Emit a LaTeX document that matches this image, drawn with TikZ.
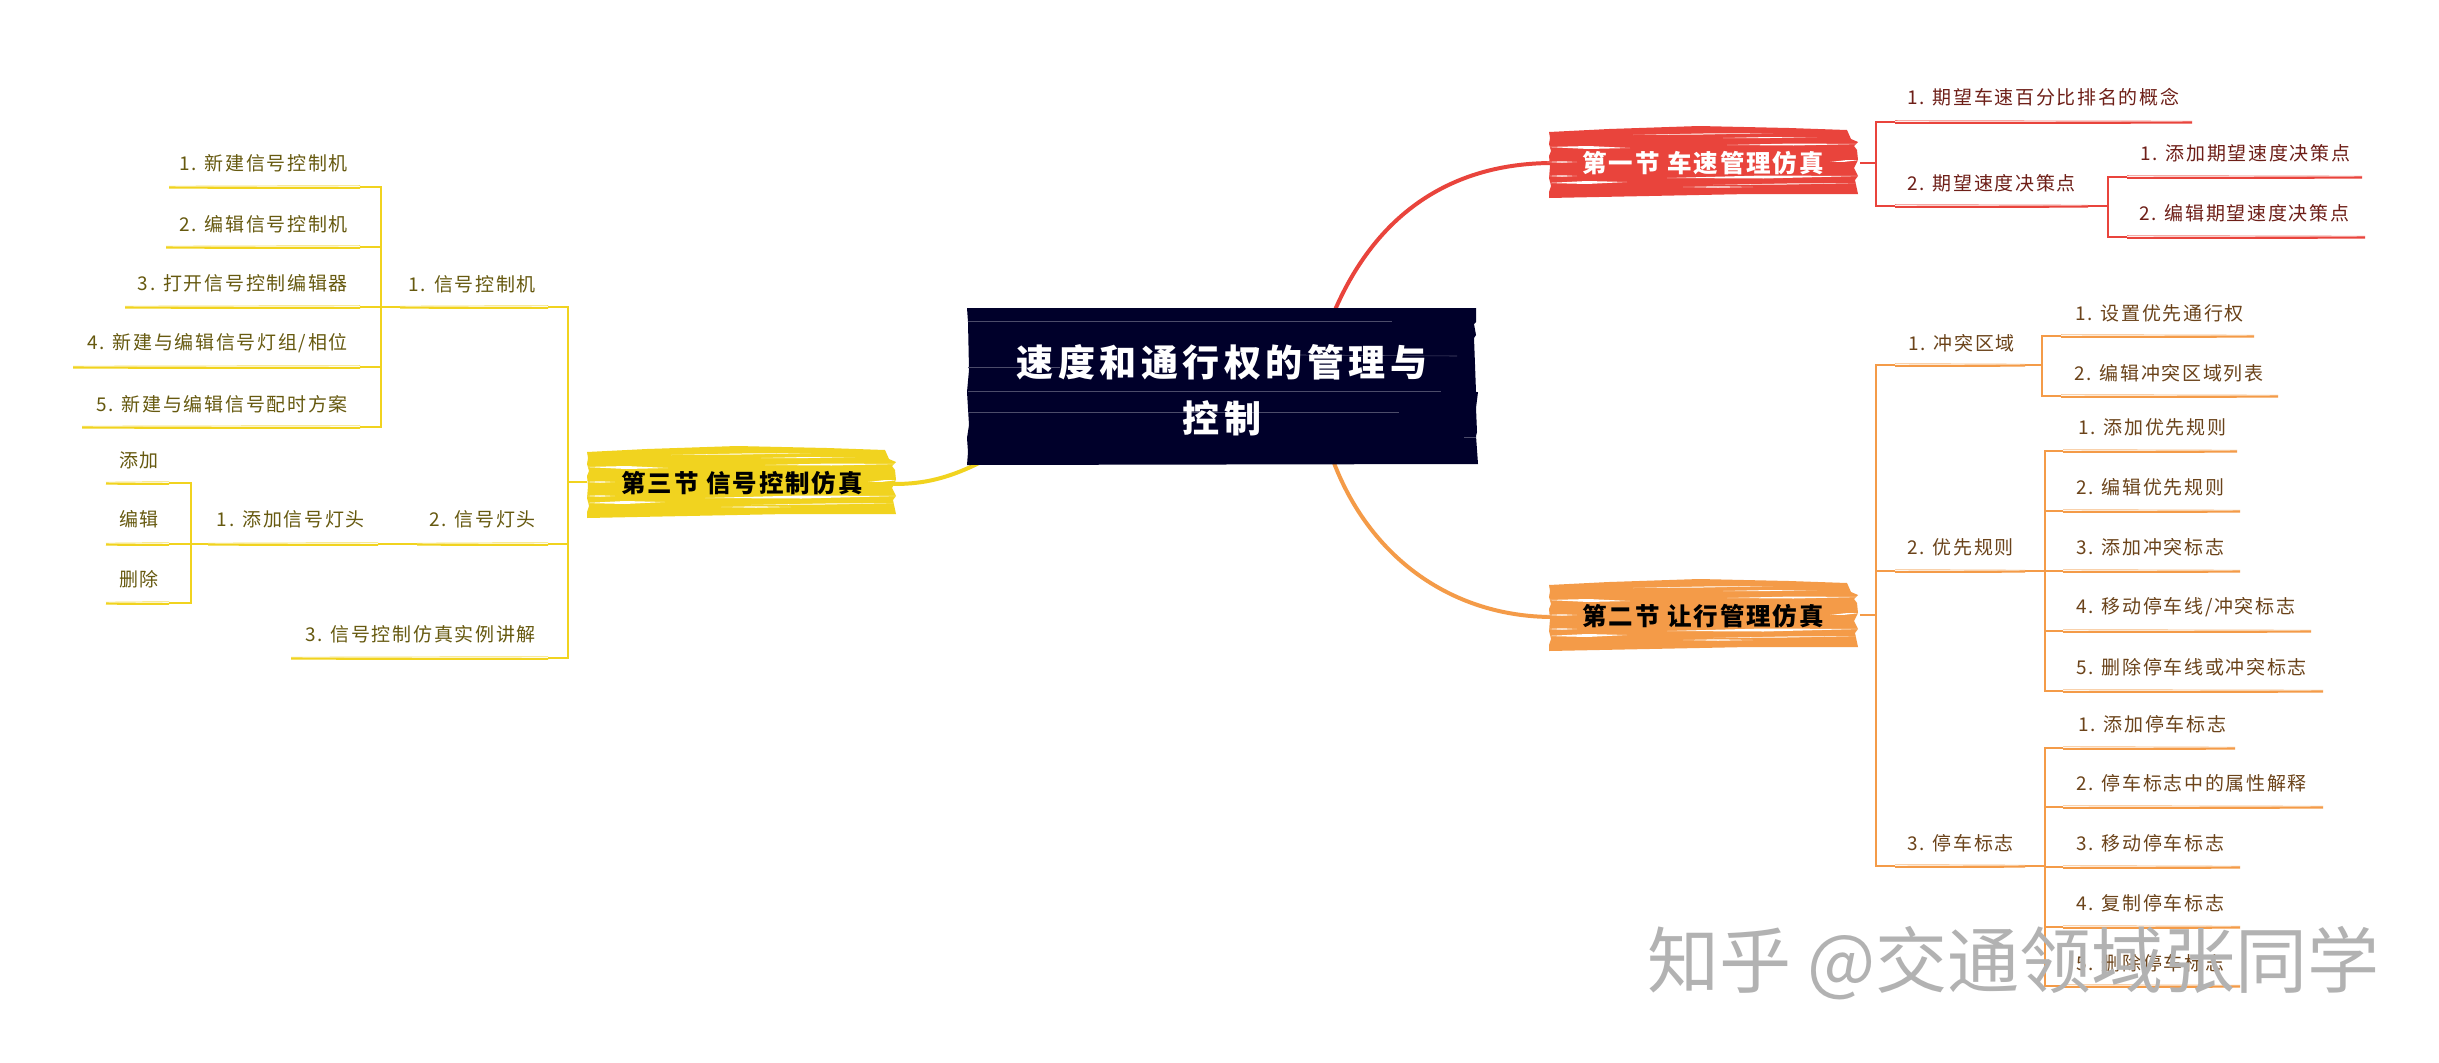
\documentclass[tikz,border=0pt]{standalone}
\usepackage{fontspec}
\newfontfamily\leaffont[LetterSpace=9]{Noto Sans CJK SC}
\newfontfamily\titlefont[LetterSpace=8]{Noto Sans CJK SC}
\newfontfamily\rootfont[LetterSpace=12]{Noto Sans CJK SC}
\newfontfamily\markfont{Noto Sans CJK SC}
\definecolor{cred}{HTML}{E9443C}
\definecolor{corange}{HTML}{F49B48}
\definecolor{cyellow}{HTML}{F1D31F}
\definecolor{cnavy}{HTML}{00002A}
\definecolor{tred}{HTML}{6E1F18}
\definecolor{torange}{HTML}{6B431A}
\definecolor{tyellow}{HTML}{66590F}
\colorlet{LC}{cred}
\colorlet{TC}{tred}
\tikzset{
  x=0.03cm,y=-0.03cm,
  conn/.style={draw=LC,line width=1.1pt},
  under/.style={draw=LC,line width=1.5pt},
  underthin/.style={draw=LC!70,line width=0.8pt},
  leaf/.style={inner sep=0pt,text=TC,font=\leaffont\fontsize{16.2pt}{18pt}\selectfont},
  topic/.style={inner sep=0pt,font=\titlefont\bfseries\fontsize{20.9pt}{24pt}\selectfont},
  rootlabel/.style={inner sep=0pt,align=center,text=white,font=\rootfont\bfseries\fontsize{31.6pt}{47.5pt}\selectfont},
  curve/.style={line width=3.4pt,line cap=round},
  wm/.style={inner sep=0pt,anchor=west,font=\markfont\fontsize{61.5pt}{70pt}\selectfont},
  scratch/.style={draw=white!30!cnavy,line width=0.5pt}
}
% name, near x, far x, y, anchor, text x, text y, text
\newcommand{\leafrow}[8]{%
  \coordinate (#1-a) at (#2,#4);
  \coordinate (#1-b) at (#3,#4);
  \draw[underthin] ([yshift=1.1pt]#1-a) -- ([yshift=0.6pt]#1-b);
  \draw[under] ([yshift=-0.9pt]#1-a) -- ([yshift=-0.7pt]#1-b);
  \node[leaf,anchor=#5] (#1) at (#6,#7) {#8};
}
% parent, junction x, y, kids
\newcommand{\junction}[4]{%
  \coordinate (#1-j) at (#2,#3);
  \draw[conn] (#1-b) -- (#1-j);
  \foreach \k in {#4} {\draw[conn] (#1-j) |- (\k-a);}
}
\newcommand{\streak}[5]{% x1 y1 x2 y2 thickness
  \fill[white] (#1,#2) -- ({(#1+#3)/2},{(#2+#4)/2-#5/2}) -- (#3,#4) -- ({(#1+#3)/2},{(#2+#4)/2+#5/2}) -- cycle;
}
\newcommand{\brushbar}[3]{% x y colour
  \begin{scope}[shift={(#1,#2)}]
    \fill[#3] (0,6) -- (60,3) -- (150,0) -- (240,2) -- (298,4) -- (302,13) -- (309,16) -- (305,20) -- (308,24) -- (309,34) -- (305,42) -- (309,50) -- (306,54) -- (309,68) -- (200,68) -- (100,70) -- (0,72) -- (0,66) -- (2,60) -- (0,52) -- (1,40) -- (0,30) -- (2,25) -- (0,18) -- (1,12) -- cycle;
    \streak{84}{9}{224}{7}{1}
    \streak{174}{12}{268}{11}{1}
    \streak{178}{19}{311}{18}{2}
    \streak{-2}{21}{81}{22}{3}
    \streak{-2}{36}{28}{36}{1.5}
    \streak{281}{36}{311}{34}{1.5}
    \streak{-2}{50}{28}{50}{1.5}
    \streak{118}{52}{311}{50}{3}
    \streak{-2}{57}{78}{56}{3}
    \streak{134}{61}{204}{61}{1.5}
    \streak{164}{59}{311}{57}{1}
  \end{scope}
}
\begin{document}
\begin{tikzpicture}
\useasboundingbox (0,0) rectangle (2439,1062);
\fill[white] (0,0) rectangle (2439,1062);

% anchors of the main curves
\coordinate (rootNE) at (1330,322);
\coordinate (rootSE) at (1330,452);
\coordinate (rootSW) at (985,460);
\coordinate (redL) at (1553,163);
\coordinate (orangeL) at (1553,617);
\coordinate (yellowR) at (894,484);

\draw[curve,cred] (rootNE) .. controls (1372,215) and (1450,163) .. (redL);
\draw[curve,corange] (rootSE) .. controls (1365,555) and (1450,617) .. (orangeL);
\draw[curve,cyellow] (rootSW) .. controls (950,478) and (925,484) .. (yellowR);

% root
\fill[cnavy] (967,308) -- (1476,308) -- (1476,322) -- (1474,324) -- (1476,335) -- (1474,338) -- (1476,392) -- (1478,392) -- (1476,408) -- (1477,432) -- (1476,436) -- (1478,464) -- (967,465) -- (968,452) -- (967,438) -- (969,425) -- (967,392) -- (969,370) -- (968,322) -- cycle;
\draw[scratch] (968,321) -- (1392,321);
\draw[scratch] (968,367) -- (1060,367);
\draw[scratch] (1300,355) -- (1457,356);
\draw[scratch] (968,391) -- (1441,391);
\draw[scratch] (968,412) -- (1399,412);
\draw[scratch] (1464,437) -- (1476,437);
\node[rootlabel] (root) at (1222,390) {速度和通行权的管理与\\控制};

% red branch
\brushbar{1549}{126}{cred}
\node[topic,text=white] (red) at (1703,163) {第一节 车速管理仿真};
\colorlet{LC}{cred}\colorlet{TC}{tred}
\coordinate (red-b) at (1860,163);
\leafrow{r1}{1895}{2192}{122}{west}{1907}{97}{1. 期望车速百分比排名的概念}
\leafrow{r2}{1895}{2088}{206}{west}{1907}{183}{2. 期望速度决策点}
\leafrow{r21}{2127}{2362}{177}{west}{2140}{153}{1. 添加期望速度决策点}
\leafrow{r22}{2127}{2365}{237}{west}{2139}{213}{2. 编辑期望速度决策点}
\junction{red}{1876}{163}{r1,r2}
\junction{r2}{2108}{206}{r21,r22}

% orange branch
\brushbar{1549}{579}{corange}
\node[topic,text=black] (orange) at (1703,616) {第二节 让行管理仿真};
\colorlet{LC}{corange}\colorlet{TC}{torange}
\coordinate (orange-b) at (1860,615);
\leafrow{o1}{1895}{2025}{365}{west}{1908}{343}{1. 冲突区域}
\leafrow{o11}{2061}{2254}{336}{west}{2075}{313}{1. 设置优先通行权}
\leafrow{o12}{2061}{2278}{396}{west}{2074}{373}{2. 编辑冲突区域列表}
\leafrow{o2}{1895}{2025}{571}{west}{1907}{547}{2. 优先规则}
\leafrow{o21}{2063}{2237}{451}{west}{2078}{427}{1. 添加优先规则}
\leafrow{o22}{2063}{2240}{511}{west}{2076}{487}{2. 编辑优先规则}
\leafrow{o23}{2063}{2240}{571}{west}{2076}{547}{3. 添加冲突标志}
\leafrow{o24}{2063}{2311}{631}{west}{2076}{607}{4. 移动停车线/冲突标志}
\leafrow{o25}{2063}{2323}{691}{west}{2076}{667}{5. 删除停车线或冲突标志}
\leafrow{o3}{1895}{2025}{866}{west}{1907}{843}{3. 停车标志}
\leafrow{o31}{2063}{2235}{748}{west}{2078}{724}{1. 添加停车标志}
\leafrow{o32}{2063}{2323}{807}{west}{2076}{783}{2. 停车标志中的属性解释}
\leafrow{o33}{2063}{2240}{867}{west}{2076}{843}{3. 移动停车标志}
\leafrow{o34}{2063}{2240}{927}{west}{2076}{903}{4. 复制停车标志}
\leafrow{o35}{2063}{2240}{986}{west}{2076}{963}{5. 删除停车标志}
\junction{orange}{1876}{615}{o1,o2,o3}
\junction{o1}{2042}{365}{o11,o12}
\junction{o2}{2045}{571}{o21,o22,o23,o24,o25}
\junction{o3}{2045}{866}{o31,o32,o33,o34,o35}

% yellow branch
\brushbar{587}{446}{cyellow}
\node[topic,text=black] (yellow) at (742,483) {第三节 信号控制仿真};
\colorlet{LC}{cyellow}\colorlet{TC}{tyellow}
\coordinate (yellow-b) at (587,482);
\leafrow{y1}{548}{400}{307}{east}{536}{284}{1. 信号控制机}
\leafrow{y11}{360}{169}{187}{east}{348}{163}{1. 新建信号控制机}
\leafrow{y12}{360}{166}{247}{east}{348}{224}{2. 编辑信号控制机}
\leafrow{y13}{360}{125}{307}{east}{348}{283}{3. 打开信号控制编辑器}
\leafrow{y14}{360}{73}{367}{east}{348}{343}{4. 新建与编辑信号灯组/相位}
\leafrow{y15}{360}{82}{427}{east}{348}{404}{5. 新建与编辑信号配时方案}
\leafrow{y2}{548}{417}{544}{east}{536}{519}{2. 信号灯头}
\leafrow{y21}{378}{208}{544}{east}{365}{519}{1. 添加信号灯头}
\leafrow{y211}{169}{106}{483}{center}{139}{460}{添加}
\leafrow{y212}{169}{106}{544}{center}{139}{519}{编辑}
\leafrow{y213}{169}{106}{603}{center}{139}{579}{删除}
\leafrow{y3}{548}{291}{658}{east}{536}{634}{3. 信号控制仿真实例讲解}
\junction{yellow}{568}{482}{y1,y2,y3}
\junction{y1}{381}{307}{y11,y12,y13,y14,y15}
\junction{y2}{398}{544}{y21}
\junction{y21}{191}{544}{y211,y212,y213}

% watermark
\node[wm,text=black!30] (mark) at (1647,963) {知乎 @交通领域张同学};
\end{tikzpicture}
\end{document}
